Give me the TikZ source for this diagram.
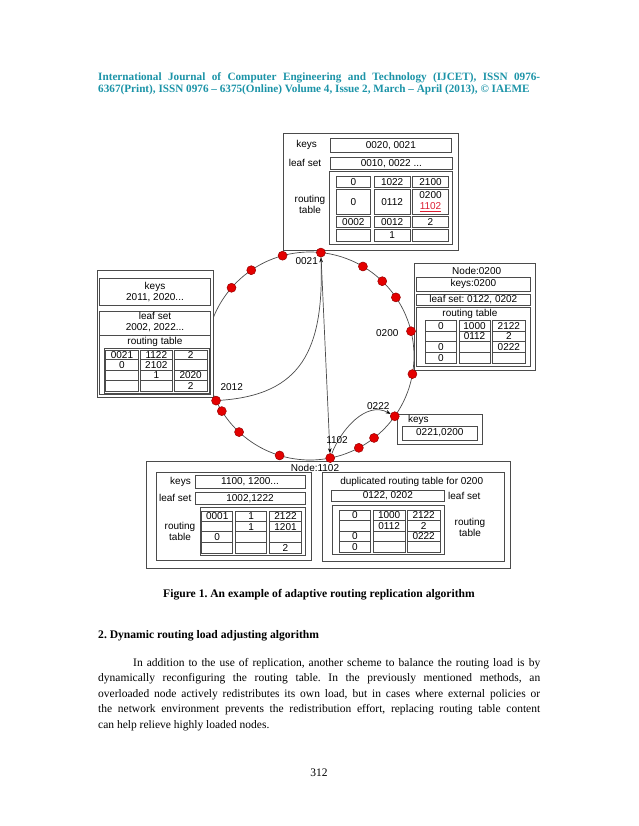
\documentclass[tikz,border=0pt]{standalone}
\usepackage{fontspec}
\setmainfont{Liberation Serif}
\newfontfamily\dg{Liberation Sans}
\usetikzlibrary{fit,calc,arrows.meta}
\definecolor{lc}{RGB}{75,75,75}
\definecolor{teal1}{RGB}{28,148,168}
\definecolor{dotred}{RGB}{228,0,0}
\definecolor{dotedge}{RGB}{150,0,0}
\definecolor{ulred}{RGB}{220,30,50}
\frenchspacing
\tikzset{
 bx/.style={draw=lc,line width=0.75pt,fill=white,inner sep=0pt},
 cel/.style={draw=lc,line width=0.65pt,inner sep=0pt},
 lab/.style={inner sep=0pt,align=center,font=\dg\fontsize{10}{11}\selectfont},
 rdot/.style={circle,fill=dotred,draw=dotedge,line width=0.5pt,minimum size=9pt,inner sep=0pt},
 ring/.style={draw=lc,line width=0.7pt},
 link/.style={draw=lc,line width=0.7pt,-{Stealth[length=5pt,width=3.6pt,black]}},
 hdr/.style={inner sep=0pt,text=teal1,font=\bfseries\fontsize{11.2}{12}\selectfont},
 bodyt/.style={inner sep=0pt,font=\fontsize{11.5}{13}\selectfont},
 boldt/.style={inner sep=0pt,font=\bfseries\fontsize{11.6}{13}\selectfont},
}
\newcommand\cbox[6]{\node[cel,fit={(#2,#3)(#4,#5)},label={[lab]center:{#6}}] (#1) {};}
\newcommand\rowc[7]{%
 \cbox{#1#2a}{\ca}{#3}{\cb}{#4}{#5}
 \cbox{#1#2b}{\cc}{#3}{\cd}{#4}{#6}
 \cbox{#1#2c}{\ce}{#3}{\cf}{#4}{#7}}
\begin{document}
\begin{tikzpicture}[x=1pt,y=-1pt]
\fill[white] (0,0) rectangle (638,826);
\useasboundingbox (0,0) rectangle (638,826);

% ---------- page text ----------
\node[hdr,anchor=base west] (h1) at (98,80.5) {\makebox[442pt][s]{International Journal of Computer Engineering and Technology (IJCET), ISSN 0976-}};
\node[hdr,anchor=base west] (h2) at (98,93) {6367(Print), ISSN 0976 – 6375(Online) Volume 4, Issue 2, March – April (2013), © IAEME};

\node[boldt,anchor=base] (cap) at (319,597) {Figure 1. An example of adaptive routing replication algorithm};
\node[boldt,anchor=base west] (sec) at (98,638) {2. Dynamic routing load adjusting algorithm};
\node[bodyt,anchor=base west] (p1) at (133,666) {\makebox[407pt][s]{In addition to the use of replication, another scheme to balance the routing load is by}};
\node[bodyt,anchor=base west] (p2) at (98,681.5) {\makebox[442pt][s]{dynamically reconfiguring the routing table. In the previously mentioned methods, an}};
\node[bodyt,anchor=base west] (p3) at (98,697) {\makebox[442pt][s]{overloaded node actively redistributes its own load, but in cases where external policies or}};
\node[bodyt,anchor=base west] (p4) at (98,712.5) {\makebox[442pt][s]{the network environment prevents the redistribution effort, replacing routing table content}};
\node[bodyt,anchor=base west] (p5) at (98,728) {can help relieve highly loaded nodes.};
\node[bodyt,anchor=base] (pg) at (319,776) {312};

% ---------- ring ----------
\coordinate (C) at (310,356);
\draw[ring] (C) circle[radius=104pt];

% ---------- top box ----------
\node[bx,fit={(283,133)(458,250)}] (topbox) {};
\node[lab] (tkeys) at (306.7,145) {keys};
\cbox{tkf}{330}{138.3}{451.7}{152.7}{0020, 0021}
\node[lab] (tleaf) at (305,163) {leaf set};
\cbox{tlf}{330}{157.7}{452.7}{169.3}{0010, 0022 ...}
\cbox{trt}{329.3}{171.7}{452.7}{244}{}
\node[lab] (trtl) at (310,204) {routing\\table};
\def\ca{336}\def\cb{370.7}\def\cc{374.3}\def\cd{410}\def\ce{412.7}\def\cf{448.3}
\rowc{t}{1}{176}{187.5}{0}{1022}{2100}
\rowc{t}{2}{189.5}{214.3}{0}{0112}{0200\\\textcolor{ulred}{\underline{1102}}}
\rowc{t}{3}{216}{227.5}{0002}{0012}{2}
\rowc{t}{4}{229.5}{241.5}{}{1}{}

% ---------- Node:0200 box ----------
\node[bx,fit={(414,263.3)(535,370)}] (rbox) {};
\node[lab] (rnode) at (476.7,271.3) {Node:0200};
\cbox{rkf}{416.7}{277.7}{530}{291}{keys:0200}
\cbox{rlf}{416.7}{294.3}{530}{305.7}{leaf set: 0122, 0202}
\cbox{rrt}{416.7}{307.7}{530}{366.7}{}
\node[lab] (rrtl) at (470,313.8) {routing table};
\def\ca{425}\def\cb{456.7}\def\cc{459}\def\cd{490}\def\ce{492.7}\def\cf{525}
\rowc{r}{1}{320.7}{331}{0}{1000}{2122}
\rowc{r}{2}{331}{341.7}{}{0112}{2}
\rowc{r}{3}{341.7}{352.5}{0}{}{0222}
\rowc{r}{4}{352.5}{363.3}{0}{}{}

% ---------- left box ----------
\node[bx,fit={(97,270)(213,397)}] (lbox) {};
\cbox{lkf}{99.3}{278.3}{210.7}{305.7}{keys\\2011, 2020...}
\cbox{lfr}{99.3}{311}{210.7}{394.7}{}
\node[lab] (llf) at (155,322.2) {leaf set\\2002, 2022...};
\draw[lc,line width=0.65pt] (99.3,335.7) -- (210.7,335.7);
\node[lab] (lrtl) at (155,341.7) {routing table};
\cbox{lrt}{104}{348.3}{209}{393}{}
\def\ca{105.7}\def\cb{138.3}\def\cc{140}\def\cd{172.7}\def\ce{174}\def\cf{207.3}
\rowc{l}{1}{350}{359.3}{0021}{1122}{2}
\rowc{l}{2}{359.3}{370}{0}{2102}{}
\rowc{l}{3}{370}{380.7}{}{1}{2020}
\rowc{l}{4}{380.7}{391.7}{}{}{2}

% ---------- keys box near 0222 ----------
\node[bx,fit={(397.3,414)(482.7,444.3)}] (kbox) {};
\node[lab] (kkeys) at (418.3,420.3) {keys};
\cbox{kkf}{402.3}{426}{477.3}{440}{0221,0200}

% ---------- bottom box ----------
\node[bx,fit={(146.5,461.7)(510.7,568)}] (bbox) {};
\cbox{blb}{156}{472.7}{311}{560.5}{}
\cbox{brb}{322.7}{472.7}{504}{561.7}{}
\node[lab] (bnode) at (315,467.5) {Node:1102};
\node[lab,anchor=east] (bkeys) at (191,482) {keys};
\node[lab,anchor=east] (bleaf) at (191.5,498) {leaf set};
\cbox{bkf}{195}{475.7}{305}{488.3}{1100, 1200...}
\cbox{blf}{195}{492.7}{305}{504}{1002,1222}
\node[lab] (brtl) at (180,531) {routing\\table};
\cbox{brt}{200}{507.7}{305}{555.7}{}
\def\ca{201.7}\def\cb{232.7}\def\cc{235.7}\def\cd{266.7}\def\ce{269.3}\def\cf{301.7}
\rowc{b}{1}{511}{521.7}{0001}{1}{2122}
\rowc{b}{2}{521.7}{531.7}{}{1}{1201}
\rowc{b}{3}{531.7}{542.3}{0}{}{}
\rowc{b}{4}{542.3}{553.3}{}{}{2}
\node[lab] (dtitle) at (411.7,481.7) {duplicated routing table for 0200};
\cbox{dlf}{331.7}{490.7}{444}{501}{0122, 0202}
\node[lab,anchor=west] (dleaf) at (448,495.5) {leaf set};
\cbox{drt}{332.7}{505.7}{444}{554.3}{}
\node[lab] (drtl) at (470,527.7) {routing\\table};
\def\ca{339.3}\def\cb{370.7}\def\cc{373.3}\def\cd{405}\def\ce{407.3}\def\cf{440}
\rowc{d}{1}{510}{520.7}{0}{1000}{2122}
\rowc{d}{2}{520.7}{531}{}{0112}{2}
\rowc{d}{3}{531}{541.7}{0}{}{0222}
\rowc{d}{4}{541.7}{552.5}{0}{}{}

% ---------- ring nodes ----------
\path (C) ++(84:104pt) node[rdot] (n0021) {};
\path (C) ++(59.4:104pt) node[rdot] (r1) {};
\path (C) ++(46:104pt) node[rdot] (r2) {};
\path (C) ++(34.3:104pt) node[rdot] (r3) {};
\path (C) ++(13.8:104pt) node[rdot] (n0200) {};
\path (C) ++(-10:104pt) node[rdot] (r4) {};
\path (C) ++(-35.4:104pt) node[rdot] (n0222) {};
\path (C) ++(-52:104pt) node[rdot] (r5) {};
\path (C) ++(-62:104pt) node[rdot] (r6) {};
\path (C) ++(-78.8:104pt) node[rdot] (n1102) {};
\path (C) ++(253:104pt) node[rdot] (r7) {};
\path (C) ++(227:104pt) node[rdot] (r8) {};
\path (C) ++(212:104pt) node[rdot] (r9) {};
\path (C) ++(205.4:104pt) node[rdot] (n2012) {};
\path (C) ++(139:104pt) node[rdot] (r10) {};
\path (C) ++(124.4:104pt) node[rdot] (r11) {};
\path (C) ++(105.3:104pt) node[rdot] (r12) {};

% ---------- links ----------
\draw[link] (n2012) .. controls ($(n2012.center)+(85,-6)$) and ($(n0021.center)+(3,98)$) .. (n0021);
\draw[link] (n0021) -- (n1102);
\draw[link] (n1102) .. controls ($(n1102.center)+(10,-27)$) and ($(n0222.center)+(-29,-16)$) .. (n0222);

% ---------- ring labels ----------
\node[lab] (l0021) at (306.7,260.7) {0021};
\node[lab] (l0200) at (387.3,333.3) {0200};
\node[lab] (l2012) at (231.7,387.3) {2012};
\node[lab] (l0222) at (378.3,405.7) {0222};
\node[lab] (l1102) at (337,440) {1102};
\end{tikzpicture}
\end{document}
